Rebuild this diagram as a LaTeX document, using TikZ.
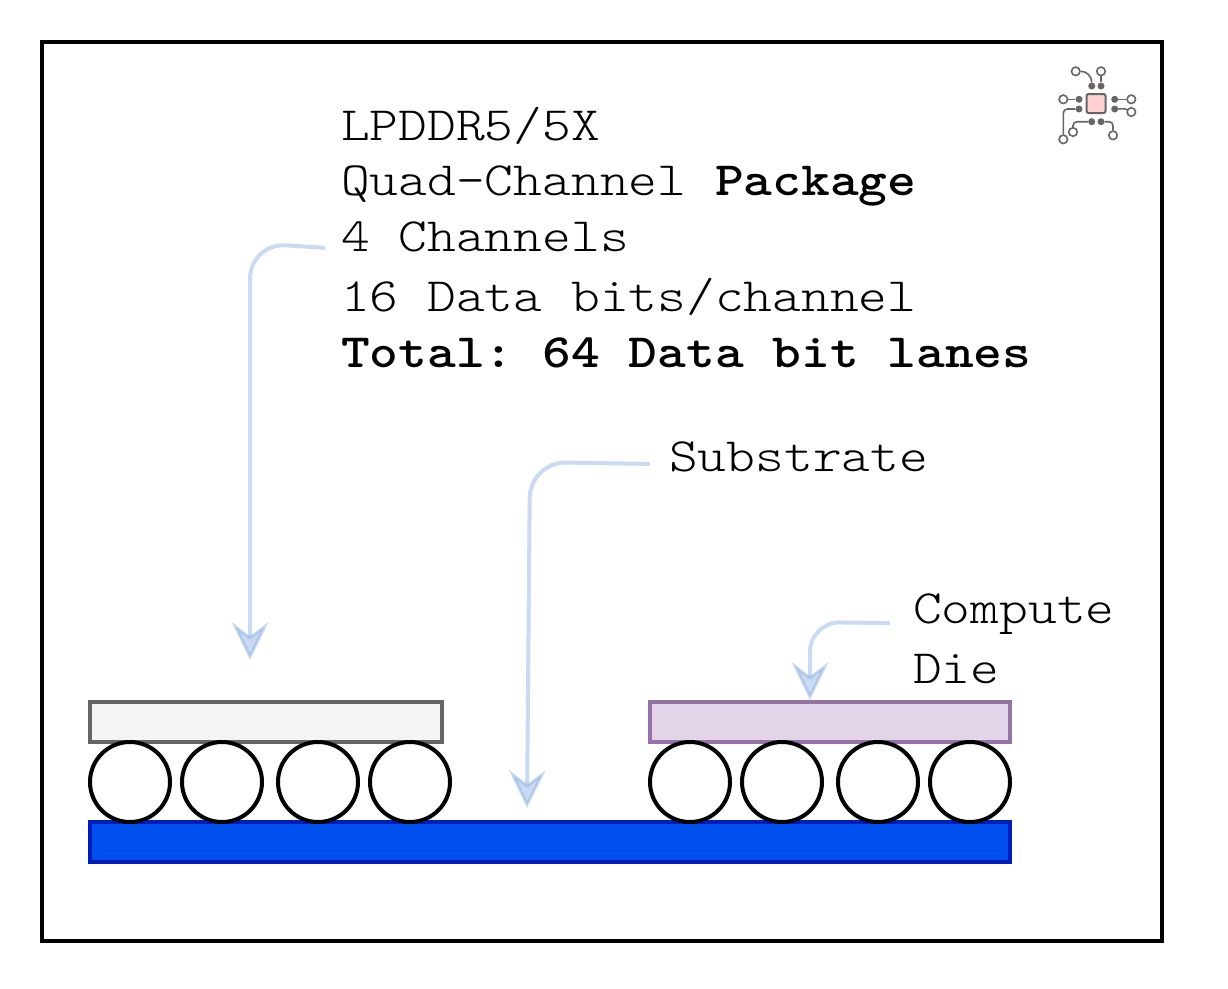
\documentclass[tikz,border=0pt]{standalone}
\usepackage{fontspec}
\setmonofont[FakeStretch=1.146]{Latin Modern Mono Light}
\usetikzlibrary{arrows.meta,positioning}
\definecolor{pkgfill}{HTML}{F5F5F5}
\definecolor{pkgline}{HTML}{666666}
\definecolor{diefill}{HTML}{E1D5E7}
\definecolor{dieline}{HTML}{9673A6}
\definecolor{subfill}{HTML}{0050EF}
\definecolor{subline}{HTML}{001DBC}
\definecolor{callout}{HTML}{7EA6E0}
\definecolor{chipfill}{HTML}{FFD0D0}
\tikzset{lbl/.style={anchor=base west, inner sep=0pt, font=\ttfamily\fontsize{47.8}{50}\selectfont}}
\tikzset{plate/.style={rectangle, line width=4pt, minimum height=40pt, inner sep=0pt}}
\tikzset{ball/.style={circle, draw, line width=4pt, fill=white, minimum size=80pt, inner sep=0pt}}
\tikzset{arr/.style={draw=callout, line width=4pt, opacity=0.42, rounded corners=#1,
	-{Stealth[length=38pt, width=37pt, inset=14pt, line width=3pt, fill=callout]}}}
\tikzset{dot/.style={circle, fill=pkgline, minimum size=7pt, inner sep=0pt}}
\tikzset{pad/.style={circle, draw=pkgline, fill=white, line width=1.6pt, minimum size=8.5pt, inner sep=0pt}}
\tikzset{trace/.style={draw=pkgline, line width=1.6pt}}

\begin{document}
\begin{tikzpicture}[x=1pt, y=-1pt]
	\useasboundingbox (0,0) rectangle (1228,988);
	\node[rectangle, draw, line width=4pt, minimum width=1120pt, minimum height=899pt, inner sep=0pt] (frame) at (602,491.5) {};

	\node[lbl] (l1) at (341,140.5) {LPDDR5/5X};
	\node[lbl] (l2) at (341,195.5) {Quad-Channel \textbf{Package}};
	\node[lbl] (l3) at (341,251.5) {4 Channels};
	\node[lbl] (l4) at (341,311.5) {16 Data bits/channel};
	\node[lbl] (l5) at (341,367.5) {\textbf{Total: 64 Data bit lanes}};
	\node[lbl] (sub) at (669,471.5) {Substrate};
	\node[lbl] (cmp) at (913,623.5) {Compute};
	\node[lbl] (die) at (913,683.5) {Die};

	\node[plate, draw=pkgline, fill=pkgfill, minimum width=352pt] (pkg) at (266,722) {};
	\node[plate, draw=dieline, fill=diefill, minimum width=360pt] (cdie) at (830,722) {};
	\node[plate, draw=subline, fill=subfill, minimum width=920pt] (subst) at (550,842) {};

	\foreach \i/\x in {1/130,2/222,3/318,4/410,5/690,6/782,7/878,8/970}
		\node[ball] (b\i) at (\x,782) {};

	\coordinate (pkgtip) at (250,660);
	\coordinate (subtip) at (527,808);

	\draw[arr=36pt] ([xshift=-16pt,yshift=-11pt]l3.west) -- (250,243) -- (pkgtip);
	\draw[arr=36pt] ([xshift=-19pt,yshift=-7pt]sub.west) -- (530,462) -- (subtip);
	\draw[arr=30pt] ([xshift=-23pt,yshift=-9pt]cmp.west) -- (810,622) -- ([xshift=-20pt]cdie.north);

	% chip icon
	\node[rectangle, rounded corners=2pt, draw=pkgline, fill=chipfill, line width=2pt, minimum size=19pt, inner sep=0pt] (chip) at (1096,103.5) {};
	\foreach \n/\x/\y in {dt1/1091.7/86,dt2/1101/86,dl1/1079/99.3,dl2/1079/109,dr1/1114.7/99.3,dr2/1114.7/109,db1/1091.7/121.7,db2/1101/121.7}
		\node[dot] (\n) at (\x,\y) {};
	\foreach \n/\x/\y in {pt1/1075.7/71.3,pt2/1101/71.3,pl1/1063.3/99.3,pr1/1131.3/99.3,pr2/1131.3/112,pl2/1063.3/139.3,pb1/1073/132,pb2/1113/135.3}
		\node[pad] (\n) at (\x,\y) {};
	\draw[trace] (pt1) to[out=0,in=90] (dt1);
	\draw[trace] (pt2) -- (dt2);
	\draw[trace] (pl1) -- (dl1);
	\draw[trace] (pr1) -- (dr1);
	\draw[trace] (pr2) to[out=150,in=0] (dr2);
	\draw[trace, rounded corners=4pt] (pl2) |- (dl2);
	\draw[trace, rounded corners=4pt] (pb1) |- (db1);
	\draw[trace, rounded corners=4pt] (pb2) |- (db2);
\end{tikzpicture}
\end{document}
